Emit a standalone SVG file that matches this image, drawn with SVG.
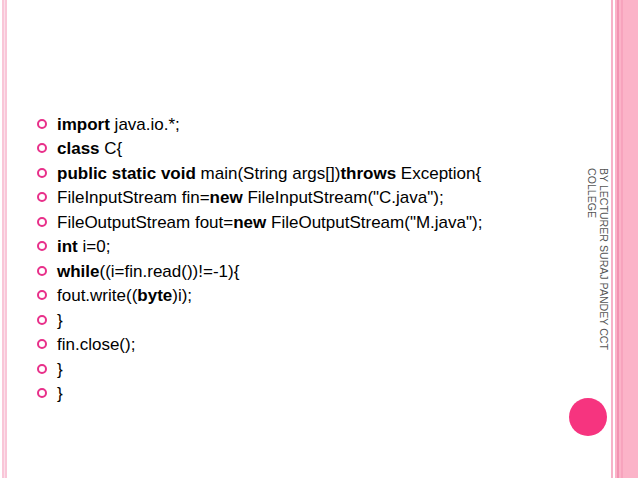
<svg xmlns="http://www.w3.org/2000/svg" width="638" height="478" viewBox="0 0 638 478">
<style>
.t{font-family:"Liberation Sans",Arial,sans-serif;font-size:17px;fill:#000}
.b{font-weight:bold}
.o{fill:none;stroke:#e8308a;stroke-width:2}
</style>
<rect width="638" height="478" fill="#fff"/>
<rect x="2" y="0" width="5" height="478" fill="#f9c6d8"/>
<rect x="4" y="0" width="1" height="478" fill="#fbe0ea"/>
<rect x="611" y="0" width="2" height="478" fill="#f6b3c9"/>
<rect x="615" y="0" width="23" height="478" fill="#fbb3c8"/>
<rect x="617" y="0" width="2" height="478" fill="#f294b3"/>
<rect x="621" y="0" width="2" height="478" fill="#f7a3bd"/>
<circle cx="588" cy="417" r="19" fill="#f6347f"/>
<text transform="translate(600,168) rotate(90)" class="t" style="font-size:10.6px;fill:#555">BY LECTURER SURAJ PANDEY CCT</text>
<text transform="translate(588,168) rotate(90)" class="t" style="font-size:10.6px;fill:#555">COLLEGE</text>
<g id="bullets">
<circle class="o" cx="42" cy="124" r="4"/><circle class="o" cx="42" cy="148" r="4"/><circle class="o" cx="42" cy="173" r="4"/><circle class="o" cx="42" cy="197" r="4"/><circle class="o" cx="42" cy="222" r="4"/><circle class="o" cx="42" cy="246" r="4"/><circle class="o" cx="42" cy="271" r="4"/><circle class="o" cx="42" cy="295" r="4"/><circle class="o" cx="42" cy="320" r="4"/><circle class="o" cx="42" cy="344" r="4"/><circle class="o" cx="42" cy="369" r="4"/><circle class="o" cx="42" cy="393" r="4"/>
</g>
<g id="code" class="t">
<text x="57" y="130"><tspan class="b">import</tspan> java.io.*;</text>
<text x="57" y="154"><tspan class="b">class</tspan> C{</text>
<text x="57" y="179"><tspan class="b">public static void</tspan> main(String args[])<tspan class="b">throws</tspan> Exception{</text>
<text x="57" y="203">FileInputStream fin=<tspan class="b">new</tspan> FileInputStream("C.java");</text>
<text x="57" y="228">FileOutputStream fout=<tspan class="b">new</tspan> FileOutputStream("M.java");</text>
<text x="57" y="252"><tspan class="b">int</tspan> i=0;</text>
<text x="57" y="277"><tspan class="b">while</tspan>((i=fin.read())!=-1){</text>
<text x="57" y="301">fout.write((<tspan class="b">byte</tspan>)i);</text>
<text x="57" y="326">}</text>
<text x="57" y="350">fin.close();</text>
<text x="57" y="375">}</text>
<text x="57" y="399">}</text>
</g>
</svg>
